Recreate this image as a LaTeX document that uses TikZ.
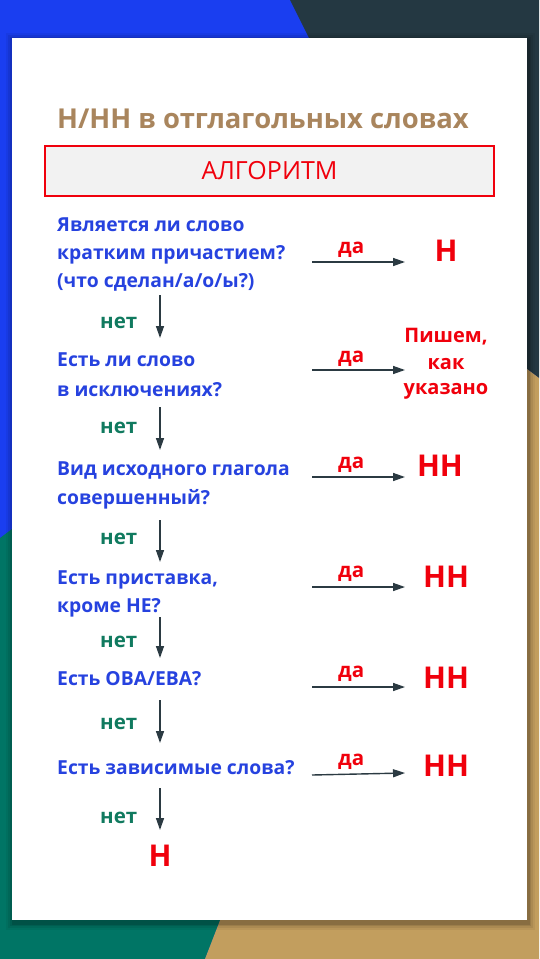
\documentclass[tikz,border=0pt]{standalone}
\usepackage{fontspec}
\setmainfont{Open Sans}
\usetikzlibrary{arrows.meta}
\definecolor{bgblue}{HTML}{1A3EF0}
\definecolor{bgslate}{HTML}{243842}
\definecolor{bgteal}{HTML}{007565}
\definecolor{bgtan}{HTML}{C29E5E}
\definecolor{qblue}{HTML}{2642DF}
\definecolor{nteal}{HTML}{107A5F}
\definecolor{ared}{HTML}{F0000C}
\definecolor{ttan}{HTML}{A9855D}
\definecolor{arrc}{HTML}{2B3A42}
\definecolor{boxgray}{HTML}{F2F2F2}
\begin{document}
\begin{tikzpicture}[x=1pt,y=-1pt,
  q/.style={anchor=base west, inner sep=0, text=qblue, font=\bfseries\fontsize{19.3}{22}\selectfont},
  no/.style={anchor=base west, inner sep=0, text=nteal, font=\bfseries\fontsize{20.5}{24}\selectfont},
  yes/.style={anchor=base west, inner sep=0, text=ared, font=\bfseries\fontsize{20.5}{24}\selectfont},
  res/.style={anchor=base, inner sep=0, text=ared, font=\bfseries\fontsize{30}{34}\selectfont},
  pis/.style={anchor=base, inner sep=0, text=ared, font=\bfseries\fontsize{20}{24}\selectfont},
  arr/.style={draw=arrc, line width=1.4pt, -{Triangle[length=12pt,width=8pt]}}]
\useasboundingbox (0,0) rectangle (539,959);
% background
\fill[bgblue] (0,0) rectangle (539,959);
\fill[bgslate] (290,0) -- (539,0) -- (539,378) -- (515,360) -- (330,80) -- cycle;
\fill[bgteal] (0,538) -- (12,529) -- (200,420) -- (360,560) -- (205,959) -- (0,959) -- cycle;
\fill[bgtan] (205,959) -- (539,959) -- (539,378) -- (515,360) -- (360,560) -- cycle;
% card shadow + card
\foreach \s/\o in {7/0.05,5/0.07,3/0.09,1.5/0.12}
  \fill[black, opacity=\o] (12-\s+1,38-\s+2) rectangle (527+\s+1,920+\s+3);
\fill[white] (12,38) rectangle (527,920);
% title
\node[anchor=base west, inner sep=0, text=ttan, font=\bfseries\fontsize{27.4}{32}\selectfont] (title) at (57,128) {Н/НН в отглагольных словах};
\node[draw=ared, line width=1.3pt, fill=boxgray, minimum width=449pt, minimum height=50pt, inner sep=0,
      text=ared, font=\fontsize{25}{28}\selectfont] (alg) at (269.5,171) {АЛГОРИТМ};
% step 1
\node[q] (q1a) at (57,231) {Является ли слово};
\node[q] (q1b) at (57,259) {кратким причастием?};
\node[q] (q1c) at (57,287) {(что сделан/а/о/ы?)};
\coordinate (h1s) at (312,262); \coordinate (h1e) at (405,262);
\draw[arr] (h1s) -- (h1e);
\node[yes] (y1) at (338,253) {да};
\node[res] (r1) at (446,261) {Н};
\coordinate (v1s) at (160,295); \coordinate (v1e) at (160,338);
\draw[arr] (v1s) -- (v1e);
\node[no] (n1) at (100,328) {нет};
% step 2
\node[q] (q2a) at (57,366) {Есть ли слово};
\node[q] (q2b) at (57,396) {в исключениях?};
\coordinate (h2s) at (312,370); \coordinate (h2e) at (405,370);
\draw[arr] (h2s) -- (h2e);
\node[yes] (y2) at (338,362) {да};
\node[pis] (p1) at (446,342) {Пишем,};
\node[pis] (p2) at (446,369) {как};
\node[pis] (p3) at (446,394) {указано};
\coordinate (v2s) at (160,407); \coordinate (v2e) at (160,450);
\draw[arr] (v2s) -- (v2e);
\node[no] (n2) at (100,433) {нет};
% step 3
\node[q] (q3a) at (57,475) {Вид исходного глагола};
\node[q] (q3b) at (57,504) {совершенный?};
\coordinate (h3s) at (312,477); \coordinate (h3e) at (405,477);
\draw[arr] (h3s) -- (h3e);
\node[yes] (y3) at (338,468) {да};
\node[res] (r3) at (440,476) {НН};
\coordinate (v3s) at (160,520); \coordinate (v3e) at (160,562);
\draw[arr] (v3s) -- (v3e);
\node[no] (n3) at (100,544) {нет};
% step 4
\node[q] (q4a) at (57,584) {Есть приставка,};
\node[q] (q4b) at (57,612) {кроме НЕ?};
\coordinate (h4s) at (312,587); \coordinate (h4e) at (405,587);
\draw[arr] (h4s) -- (h4e);
\node[yes] (y4) at (338,577) {да};
\node[res] (r4) at (446,587) {НН};
\coordinate (v4s) at (160,617); \coordinate (v4e) at (160,658);
\draw[arr] (v4s) -- (v4e);
\node[no] (n4) at (100,647) {нет};
% step 5
\node[q] (q5a) at (57,685) {Есть ОВА/ЕВА?};
\coordinate (h5s) at (312,687); \coordinate (h5e) at (405,687);
\draw[arr] (h5s) -- (h5e);
\node[yes] (y5) at (338,677) {да};
\node[res] (r5) at (446,688) {НН};
\coordinate (v5s) at (160,700); \coordinate (v5e) at (160,743);
\draw[arr] (v5s) -- (v5e);
\node[no] (n5) at (100,729) {нет};
% step 6
\node[q] (q6a) at (57,774) {Есть зависимые слова?};
\coordinate (h6s) at (312,775); \coordinate (h6e) at (405,773);
\draw[arr] (h6s) -- (h6e);
\node[yes] (y6) at (338,765) {да};
\node[res] (r6) at (446,776) {НН};
\coordinate (v6s) at (160,788); \coordinate (v6e) at (160,830);
\draw[arr] (v6s) -- (v6e);
\node[no] (n6) at (100,823) {нет};
\node[res] (rf) at (160,866) {Н};
\end{tikzpicture}
\end{document}
